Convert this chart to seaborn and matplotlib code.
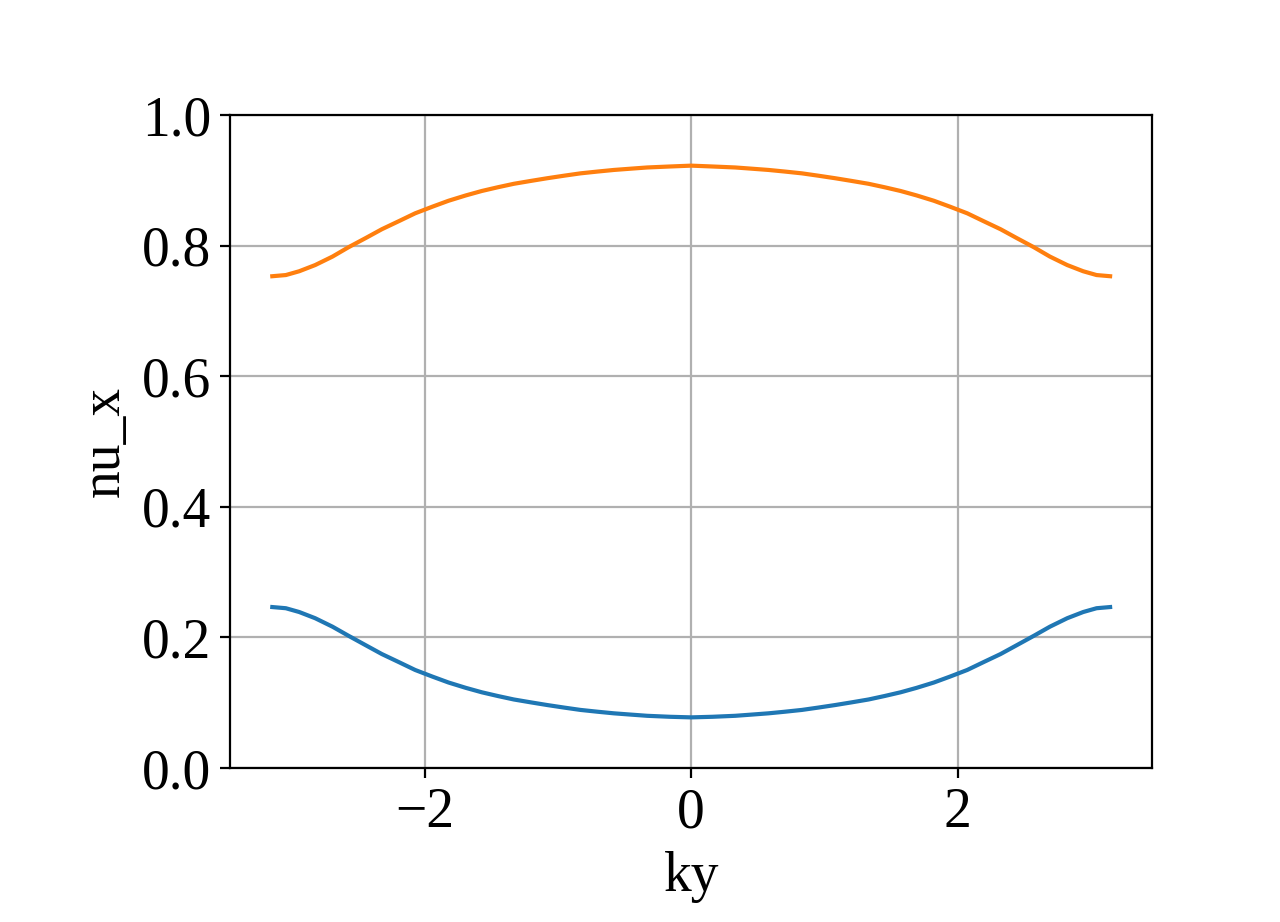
import numpy as np
import pandas as pd
import matplotlib
matplotlib.use("Agg")
import matplotlib.pyplot as plt
import seaborn as sns

# wannier centres (left half, curve is symmetric in ky)
ky_half = [-3.1416, -3.04, -2.94, -2.82, -2.69, -2.57, -2.44, -2.32, -2.19,
           -2.07, -1.94, -1.82, -1.69, -1.57, -1.45, -1.33, -1.20, -1.08,
           -0.95, -0.83, -0.70, -0.58, -0.45, -0.33, -0.16]
lower_half = [0.2466, 0.2448, 0.2390, 0.2295, 0.2165, 0.2026, 0.1880, 0.1746,
              0.1620, 0.1502, 0.1400, 0.1310, 0.1228, 0.1160, 0.1103, 0.1050,
              0.1005, 0.0965, 0.0925, 0.0890, 0.0862, 0.0838, 0.0818, 0.0800,
              0.0785]
upper_half = [0.7534, 0.7552, 0.7610, 0.7705, 0.7835, 0.7978, 0.8120, 0.8254,
              0.8380, 0.8498, 0.8600, 0.8690, 0.8772, 0.8840, 0.8897, 0.8950,
              0.8995, 0.9035, 0.9075, 0.9110, 0.9138, 0.9162, 0.9182, 0.9200,
              0.9215]
ky_mid = [0.0]
lower_mid = [0.0776]
upper_mid = [0.9228]

ky = ky_half + ky_mid + [-k for k in ky_half[::-1]]
nu_lower = lower_half + lower_mid + lower_half[::-1]
nu_upper = upper_half + upper_mid + upper_half[::-1]

plt.rcParams['font.family'] = ['Liberation Serif', 'DejaVu Serif']
plt.rcParams['font.size'] = 20

fig = plt.figure(figsize=(6.4, 4.61), dpi=200)
ax = fig.add_axes([0.18, 0.167, 0.72, 0.708])

df = pd.DataFrame({"ky": ky + ky,
                   "nu_x": nu_lower + nu_upper,
                   "band": ["0"] * len(ky) + ["1"] * len(ky)})
sns.lineplot(data=df, x="ky", y="nu_x", hue="band", palette=["#1f77b4", "#ff7f0e"],
             linewidth=1.5, legend=False, ax=ax, sort=False)

ax.set_ylim(0, 1)
ax.set_xticks([-2, 0, 2])
ax.grid(True, color="#b0b0b0", linewidth=0.8)
ax.set_xlabel("ky")
ax.set_ylabel("nu_x")

fig.savefig("out.png", dpi=200)
